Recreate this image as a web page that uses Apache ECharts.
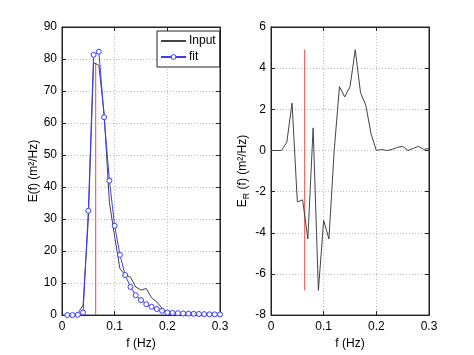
<!DOCTYPE html>
<html>
<head>
<meta charset="utf-8">
<script src="https://cdn.jsdelivr.net/npm/echarts@6/dist/echarts.min.js"></script>
<style>html,body{margin:0;padding:0;background:#fff}#c{width:474px;height:355px}</style>
</head>
<body>
<div id="c"></div>
<script>
// ---- data ----
const freq = [0.01,0.02,0.03,0.04,0.05,0.06,0.07,0.08,0.09,0.10,
              0.11,0.12,0.13,0.14,0.15,0.16,0.17,0.18,0.19,0.20,
              0.21,0.22,0.23,0.24,0.25,0.26,0.27,0.28,0.29,0.30];
const inputValues = [0,0,0.5,3.1,30.1,78.9,78.0,62.9,35.2,24.5,
                     14.5,12.5,11.9,8.8,7.8,8.3,5.4,4.1,2.15,0.8,
                     0.75,0.6,0.55,0.6,0.6,0.35,0.4,0.45,0.27,0.3];
const fitValues = [0,0,0.1,0.8,32.6,81.3,82.3,61.8,42.0,27.9,
                   18.8,12.5,8.8,6.2,4.7,3.4,2.6,1.9,1.35,0.8,
                   0.7,0.6,0.5,0.45,0.4,0.35,0.3,0.25,0.22,0.2];
const residFreq = [0.00,0.01,0.02,0.03,0.04,0.05,0.06,0.07,0.08,0.09,0.10,
                   0.11,0.12,0.13,0.14,0.15,0.16,0.17,0.18,0.19,0.20,
                   0.21,0.22,0.23,0.24,0.25,0.26,0.27,0.28,0.29,0.30];
const residValues = [0,0,0,0.4,2.3,-2.5,-2.4,-4.3,1.1,-6.8,-3.4,
                     -4.3,0,3.1,2.6,3.1,4.9,2.8,2.2,0.8,0,
                     0.05,0,0.05,0.15,0.2,0,0.1,0.2,0.05,0.1];
const peakFreq = 0.064;
const leftPeakRange = [0, 78.8];
const rightPeakRange = [-6.8, 4.9];
const xTicks = [0, 0.1, 0.2, 0.3];
const leftYTicks = [0,10,20,30,40,50,60,70,80,90];
const rightYTicks = [-8,-6,-4,-2,0,2,4,6];
const legendNames = ['Input', 'fit'];

const zip = (xs, ys) => xs.map((x, i) => [x, ys[i]]);

const FONT = 'Liberation Sans, Arial, sans-serif';
const lbl = {color:'#000', fontSize:12, fontFamily:FONT};
const split = {show:true, lineStyle:{color:'#bdbdbd', type:[1,2], width:1}};
const tick = {show:true, inside:true, length:4, lineStyle:{color:'#222'}};
const aLine = {show:true, onZero:false, lineStyle:{color:'#222', width:1}};

function xAx(grid, bottom) {
  return {
    type:'value', gridIndex:grid, position: bottom ? 'bottom' : 'top',
    min:xTicks[0], max:xTicks[xTicks.length-1], interval:xTicks[1]-xTicks[0],
    axisLine:aLine, axisTick:tick, splitLine: bottom ? split : {show:false},
    axisLabel: bottom ? Object.assign({margin:6}, lbl) : {show:false},
    name: bottom ? 'f (Hz)' : '', nameLocation:'middle', nameGap:19,
    nameTextStyle:{color:'#000', fontSize:12, fontFamily:FONT}
  };
}
function yAx(grid, ticks, left, name) {
  return {
    type:'value', gridIndex:grid, position: left ? 'left' : 'right',
    min:ticks[0], max:ticks[ticks.length-1], interval:ticks[1]-ticks[0],
    axisLine:aLine, axisTick:tick, splitLine: left ? split : {show:false},
    axisLabel: left ? Object.assign({margin:5}, lbl) : {show:false},
    name: left ? name : '', nameLocation:'middle', nameGap:20,
    nameTextStyle:{color:'#000', fontSize:12, fontFamily:FONT,
      rich:{
        n:{fontSize:12, fontFamily:FONT, color:'#000', lineHeight:16},
        s:{fontSize:9, fontFamily:FONT, color:'#000', verticalAlign:'bottom', lineHeight:16, padding:[6,0,0,0]}
      }}
  };
}

const chart = echarts.init(document.getElementById('c'), null, {renderer:'canvas'});
chart.setOption({
  animation:false,
  backgroundColor:'#fff',
  grid:[
    {left:62, top:27, width:158, height:289, show:true, borderColor:'#222', borderWidth:1, backgroundColor:'#fff'},
    {left:271, top:27, width:158, height:289, show:true, borderColor:'#222', borderWidth:1, backgroundColor:'#fff'}
  ],
  xAxis:[xAx(0,true), xAx(1,true), xAx(0,false), xAx(1,false)],
  yAxis:[
    yAx(0, leftYTicks, true, '{n|E(f) (m²/Hz)}'),
    yAx(1, rightYTicks, true, '{n|E}{s|R}{n| (f) (m²/Hz)}'),
    yAx(0, leftYTicks, false, ''),
    yAx(1, rightYTicks, false, '')
  ],
  legend:{
    data:[
      {name:legendNames[0], itemStyle:{opacity:0}},
      {name:legendNames[1], itemStyle:{color:'#fff', borderColor:'#3b3bff', borderWidth:1}}
    ],
    orient:'vertical', left:157, top:31,
    backgroundColor:'#fff', borderColor:'#222', borderWidth:1,
    padding:[4,4,4,3], itemGap:4, itemWidth:25, itemHeight:6,
    textStyle:{color:'#000', fontSize:12, fontFamily:FONT, padding:[0,0,0,-2]}
  },
  series:[
    {name:'peak', type:'line', xAxisIndex:0, yAxisIndex:0, silent:true,
     data:[[peakFreq, leftPeakRange[0]],[peakFreq, leftPeakRange[1]]],
     showSymbol:false, lineStyle:{color:'#e8494a', width:1}, z:1},
    {name:'Input', type:'line', xAxisIndex:0, yAxisIndex:0,
     data:zip(freq, inputValues), showSymbol:false, symbol:'none',
     lineStyle:{color:'#444', width:1}, itemStyle:{color:'#444'}, z:2},
    {name:'fit', type:'line', xAxisIndex:0, yAxisIndex:0,
     data:zip(freq, fitValues), symbol:'circle', symbolSize:5, showSymbol:true,
     lineStyle:{color:'#3b3bff', width:1},
     itemStyle:{color:'#fff', borderColor:'#3b3bff', borderWidth:1}, z:3},
    {name:'peakR', type:'line', xAxisIndex:1, yAxisIndex:1, silent:true,
     data:[[peakFreq, rightPeakRange[0]],[peakFreq, rightPeakRange[1]]],
     showSymbol:false, lineStyle:{color:'#e8494a', width:1}, z:1},
    {name:'resid', type:'line', xAxisIndex:1, yAxisIndex:1,
     data:zip(residFreq, residValues), showSymbol:false, symbol:'none',
     lineStyle:{color:'#444', width:1}, z:2}
  ]
});
</script>
</body>
</html>
